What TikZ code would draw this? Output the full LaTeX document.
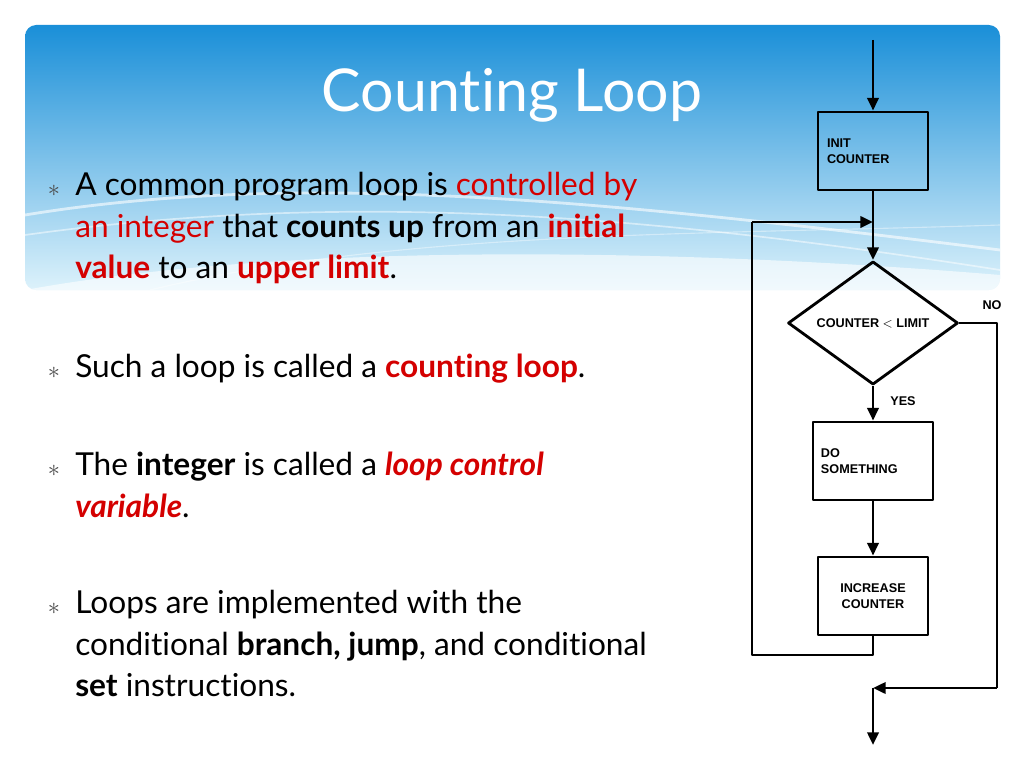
\documentclass[tikz,border=0pt]{standalone}
\usepackage{fontspec}
\setmainfont{Lato}[Ligatures=NoCommon]
\newfontfamily\chartfont{Liberation Sans}
\usetikzlibrary{shapes.geometric,arrows.meta}
\definecolor{keyred}{HTML}{D40000}
\definecolor{skytop}{HTML}{1A8FD8}
\definecolor{skybot}{HTML}{DDF2FB}
\tikzset{
  stepbox/.style={draw,line width=2pt,minimum width=2.75cm,minimum height=1.95cm,
    font=\chartfont\bfseries\small,align=left,text width=2.3cm,inner sep=2pt},
  flow/.style={line width=2pt,-{Triangle[length=9pt,width=8pt]}},
  wire/.style={line width=2pt},
  bullet/.style={anchor=north west,align=left,font=\fontsize{22.5}{29.5}\selectfont,inner sep=0pt},
  star/.style={font=\fontsize{18}{18}\selectfont,text=black!70}
}
\begin{document}
\begin{tikzpicture}[x=0.025cm,y=-0.025cm,line join=round]
\useasboundingbox (0,0) rectangle (1024,768);
\fill[white] (0,0) rectangle (1024,768);
% banner
\shade[top color=skytop,bottom color=skybot,rounded corners=8pt] (25,25) rectangle (1000,290);
\begin{scope}
\clip[rounded corners=8pt] (25,25) rectangle (1000,290);
\draw[white,opacity=0.6,line width=2pt] (25,215) .. controls (300,170) and (600,200) .. (1000,250);
\draw[white,opacity=0.5,line width=1.2pt] (25,235) .. controls (350,190) and (650,215) .. (1000,270);
\draw[white,opacity=0.4,line width=0.8pt] (150,290) .. controls (400,230) and (700,235) .. (1000,225);
\fill[white,opacity=0.6] (25,290) .. controls (300,240) and (700,250) .. (1000,275) -- (1000,290) -- cycle;
\end{scope}
\node[text=white,font=\fontsize{42}{42}\selectfont] (title) at (512,95) {Counting Loop};
% bullets
\node[star] (s1) at (54,191) {$\ast$};
\node[bullet] (b1) at (75,172) {A common program loop is \textcolor{keyred}{controlled by}\\
  \textcolor{keyred}{an integer} that \textbf{counts up} from an \textcolor{keyred}{\textbf{initial}}\\
  \textcolor{keyred}{\textbf{value}} to an \textcolor{keyred}{\textbf{upper limit}}.};
\node[star] (s2) at (54,373) {$\ast$};
\node[bullet] (b2) at (75,354) {Such a loop is called a \textcolor{keyred}{\textbf{counting loop}}.};
\node[star] (s3) at (54,471) {$\ast$};
\node[bullet] (b3) at (75,452) {The \textbf{integer} is called a \textcolor{keyred}{\textbf{\textit{loop control}}}\\
  \textcolor{keyred}{\textbf{\textit{variable}}}.};
\node[star] (s4) at (54,609) {$\ast$};
\node[bullet] (b4) at (75,590) {Loops are implemented with the\\
  conditional \textbf{branch, jump}, and conditional\\
  \textbf{set} instructions.};
% flowchart
\coordinate (start) at (873,40);
\node[stepbox] (init) at (873,151) {INIT\\COUNTER};
\node[draw,diamond,line width=2pt,minimum width=4.25cm,minimum height=3.08cm,inner sep=0pt,
  font=\chartfont\bfseries\small] (test) at (873,323) {COUNTER $<$ LIMIT};
\node[stepbox,minimum width=3cm,text width=2.6cm] (work) at (873,461) {DO\\SOMETHING};
\node[stepbox,align=center] (incr) at (873,596) {INCREASE\\COUNTER};
\coordinate (merge) at (873,222);
\coordinate (exit) at (873,688);
\coordinate (finish) at (873,745);
\draw[flow] (start) -- (init.north);
\draw[wire] (init.south) -- (merge);
\draw[flow] (merge) -- (test.north);
\draw[flow] (test.south) -- (work.north);
\draw[flow] (work.south) -- (incr.north);
\draw[wire] (incr.south) -- (873,655) -- (752,655) -- (752,222);
\draw[flow] (752,222) -- (merge);
\draw[wire] (test.east) -- (997,323) -- (997,688);
\draw[flow] (997,688) -- (exit);
\draw[flow] (exit) -- (finish);
\node[font=\chartfont\bfseries\small] (no) at (992,305) {NO};
\node[font=\chartfont\bfseries\small] (yes) at (903,401) {YES};
\end{tikzpicture}
\end{document}
